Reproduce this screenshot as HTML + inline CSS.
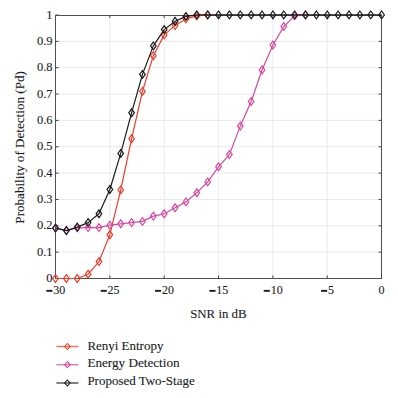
<!DOCTYPE html><html><head><meta charset="utf-8"><style>html,body{margin:0;padding:0;background:#fff;}svg{display:block;}text{font-family:"Liberation Serif",serif;fill:#1c1c26;stroke:#1c1c26;stroke-width:0.12px;}</style></head><body>
<svg width="398" height="398" viewBox="0 0 398 398">
<rect width="398" height="398" fill="#fff"/>
<path stroke="#ededed" stroke-width="1.2" fill="none" d="M109.85 15.0V278.5M164.20 15.0V278.5M218.55 15.0V278.5M272.90 15.0V278.5M327.25 15.0V278.5"/>
<path stroke="#e8e8e8" stroke-width="1" fill="none" d="M55.5 252.15H381.6M55.5 225.80H381.6M55.5 199.45H381.6M55.5 173.10H381.6M55.5 146.75H381.6M55.5 120.40H381.6M55.5 94.05H381.6M55.5 67.70H381.6M55.5 41.35H381.6"/>
<path stroke="#444" stroke-width="1" fill="none" d="M55.50 278.5v-3M55.50 15.0v3M109.85 278.5v-3M109.85 15.0v3M164.20 278.5v-3M164.20 15.0v3M218.55 278.5v-3M218.55 15.0v3M272.90 278.5v-3M272.90 15.0v3M327.25 278.5v-3M327.25 15.0v3M381.60 278.5v-3M381.60 15.0v3M55.5 278.50h3M381.6 278.50h-3M55.5 252.15h3M381.6 252.15h-3M55.5 225.80h3M381.6 225.80h-3M55.5 199.45h3M381.6 199.45h-3M55.5 173.10h3M381.6 173.10h-3M55.5 146.75h3M381.6 146.75h-3M55.5 120.40h3M381.6 120.40h-3M55.5 94.05h3M381.6 94.05h-3M55.5 67.70h3M381.6 67.70h-3M55.5 41.35h3M381.6 41.35h-3M55.5 15.00h3M381.6 15.00h-3"/>
<rect x="55.5" y="15.5" width="326" height="263" fill="none" stroke="#505050" stroke-width="1"/>
<polyline fill="none" stroke="#ea3d2b" stroke-width="1.2" stroke-linejoin="round" points="55.50,278.50 66.37,278.50 77.24,278.50 88.11,274.20 98.98,261.60 109.85,234.70 120.72,189.90 131.59,138.80 142.46,91.40 153.33,55.70 164.20,34.90 175.07,25.60 185.94,18.90 196.81,15.80 207.68,14.90"/>
<path fill="none" stroke="#ea3d2b" stroke-width="1.2" d="M55.50 274.60L58.30 278.50L55.50 282.40L52.70 278.50ZM66.37 274.60L69.17 278.50L66.37 282.40L63.57 278.50ZM77.24 274.60L80.04 278.50L77.24 282.40L74.44 278.50ZM88.11 270.30L90.91 274.20L88.11 278.10L85.31 274.20ZM98.98 257.70L101.78 261.60L98.98 265.50L96.18 261.60ZM109.85 230.80L112.65 234.70L109.85 238.60L107.05 234.70ZM120.72 186.00L123.52 189.90L120.72 193.80L117.92 189.90ZM131.59 134.90L134.39 138.80L131.59 142.70L128.79 138.80ZM142.46 87.50L145.26 91.40L142.46 95.30L139.66 91.40ZM153.33 51.80L156.13 55.70L153.33 59.60L150.53 55.70ZM164.20 31.00L167.00 34.90L164.20 38.80L161.40 34.90ZM175.07 21.70L177.87 25.60L175.07 29.50L172.27 25.60ZM185.94 15.00L188.74 18.90L185.94 22.80L183.14 18.90ZM196.81 11.90L199.61 15.80L196.81 19.70L194.01 15.80ZM207.68 11.00L210.48 14.90L207.68 18.80L204.88 14.90Z"/>

<polyline fill="none" stroke="#d8489f" stroke-width="1.2" stroke-linejoin="round" points="55.50,228.10 66.37,230.50 77.24,227.90 88.11,227.60 98.98,227.60 109.85,225.20 120.72,223.80 131.59,222.60 142.46,221.40 153.33,216.10 164.20,213.80 175.07,207.80 185.94,201.90 196.81,192.80 207.68,181.90 218.55,166.80 229.42,154.60 240.29,126.10 251.16,101.50 262.03,70.00 272.90,45.00 283.77,26.60 294.64,15.90 305.51,14.90"/>
<path fill="none" stroke="#d8489f" stroke-width="1.2" d="M55.50 224.20L58.30 228.10L55.50 232.00L52.70 228.10ZM66.37 226.60L69.17 230.50L66.37 234.40L63.57 230.50ZM77.24 224.00L80.04 227.90L77.24 231.80L74.44 227.90ZM88.11 223.70L90.91 227.60L88.11 231.50L85.31 227.60ZM98.98 223.70L101.78 227.60L98.98 231.50L96.18 227.60ZM109.85 221.30L112.65 225.20L109.85 229.10L107.05 225.20ZM120.72 219.90L123.52 223.80L120.72 227.70L117.92 223.80ZM131.59 218.70L134.39 222.60L131.59 226.50L128.79 222.60ZM142.46 217.50L145.26 221.40L142.46 225.30L139.66 221.40ZM153.33 212.20L156.13 216.10L153.33 220.00L150.53 216.10ZM164.20 209.90L167.00 213.80L164.20 217.70L161.40 213.80ZM175.07 203.90L177.87 207.80L175.07 211.70L172.27 207.80ZM185.94 198.00L188.74 201.90L185.94 205.80L183.14 201.90ZM196.81 188.90L199.61 192.80L196.81 196.70L194.01 192.80ZM207.68 178.00L210.48 181.90L207.68 185.80L204.88 181.90ZM218.55 162.90L221.35 166.80L218.55 170.70L215.75 166.80ZM229.42 150.70L232.22 154.60L229.42 158.50L226.62 154.60ZM240.29 122.20L243.09 126.10L240.29 130.00L237.49 126.10ZM251.16 97.60L253.96 101.50L251.16 105.40L248.36 101.50ZM262.03 66.10L264.83 70.00L262.03 73.90L259.23 70.00ZM272.90 41.10L275.70 45.00L272.90 48.90L270.10 45.00ZM283.77 22.70L286.57 26.60L283.77 30.50L280.97 26.60ZM294.64 12.00L297.44 15.90L294.64 19.80L291.84 15.90ZM305.51 11.00L308.31 14.90L305.51 18.80L302.71 14.90Z"/>

<polyline fill="none" stroke="#1a1a1a" stroke-width="1.2" stroke-linejoin="round" points="55.50,228.10 66.37,230.60 77.24,227.10 88.11,222.60 98.98,213.80 109.85,189.50 120.72,153.40 131.59,112.80 142.46,74.40 153.33,45.90 164.20,29.60 175.07,21.20 185.94,16.40 196.81,14.90 207.68,14.90 218.55,14.90 229.42,14.90 240.29,14.90 251.16,14.90 262.03,14.90 272.90,14.90 283.77,14.90 294.64,14.90 305.51,14.90 316.38,14.90 327.25,14.90 338.12,14.90 348.99,14.90 359.86,14.90 370.73,14.90 381.60,14.90"/>
<path fill="none" stroke="#1a1a1a" stroke-width="1.2" d="M55.50 224.20L58.30 228.10L55.50 232.00L52.70 228.10ZM66.37 226.70L69.17 230.60L66.37 234.50L63.57 230.60ZM77.24 223.20L80.04 227.10L77.24 231.00L74.44 227.10ZM88.11 218.70L90.91 222.60L88.11 226.50L85.31 222.60ZM98.98 209.90L101.78 213.80L98.98 217.70L96.18 213.80ZM109.85 185.60L112.65 189.50L109.85 193.40L107.05 189.50ZM120.72 149.50L123.52 153.40L120.72 157.30L117.92 153.40ZM131.59 108.90L134.39 112.80L131.59 116.70L128.79 112.80ZM142.46 70.50L145.26 74.40L142.46 78.30L139.66 74.40ZM153.33 42.00L156.13 45.90L153.33 49.80L150.53 45.90ZM164.20 25.70L167.00 29.60L164.20 33.50L161.40 29.60ZM175.07 17.30L177.87 21.20L175.07 25.10L172.27 21.20ZM185.94 12.50L188.74 16.40L185.94 20.30L183.14 16.40ZM196.81 11.00L199.61 14.90L196.81 18.80L194.01 14.90ZM207.68 11.00L210.48 14.90L207.68 18.80L204.88 14.90ZM218.55 11.00L221.35 14.90L218.55 18.80L215.75 14.90ZM229.42 11.00L232.22 14.90L229.42 18.80L226.62 14.90ZM240.29 11.00L243.09 14.90L240.29 18.80L237.49 14.90ZM251.16 11.00L253.96 14.90L251.16 18.80L248.36 14.90ZM262.03 11.00L264.83 14.90L262.03 18.80L259.23 14.90ZM272.90 11.00L275.70 14.90L272.90 18.80L270.10 14.90ZM283.77 11.00L286.57 14.90L283.77 18.80L280.97 14.90ZM294.64 11.00L297.44 14.90L294.64 18.80L291.84 14.90ZM305.51 11.00L308.31 14.90L305.51 18.80L302.71 14.90ZM316.38 11.00L319.18 14.90L316.38 18.80L313.58 14.90ZM327.25 11.00L330.05 14.90L327.25 18.80L324.45 14.90ZM338.12 11.00L340.92 14.90L338.12 18.80L335.32 14.90ZM348.99 11.00L351.79 14.90L348.99 18.80L346.19 14.90ZM359.86 11.00L362.66 14.90L359.86 18.80L357.06 14.90ZM370.73 11.00L373.53 14.90L370.73 18.80L367.93 14.90ZM381.60 11.00L384.40 14.90L381.60 18.80L378.80 14.90Z"/>

<text x="52.6" y="282.10" font-size="13.5" text-anchor="end" textLength="6.25" lengthAdjust="spacingAndGlyphs">0</text>
<text x="52.6" y="255.75" font-size="13.5" text-anchor="end" textLength="15.6" lengthAdjust="spacingAndGlyphs">0.1</text>
<text x="52.6" y="229.40" font-size="13.5" text-anchor="end" textLength="15.6" lengthAdjust="spacingAndGlyphs">0.2</text>
<text x="52.6" y="203.05" font-size="13.5" text-anchor="end" textLength="15.6" lengthAdjust="spacingAndGlyphs">0.3</text>
<text x="52.6" y="176.70" font-size="13.5" text-anchor="end" textLength="15.6" lengthAdjust="spacingAndGlyphs">0.4</text>
<text x="52.6" y="150.35" font-size="13.5" text-anchor="end" textLength="15.6" lengthAdjust="spacingAndGlyphs">0.5</text>
<text x="52.6" y="124.00" font-size="13.5" text-anchor="end" textLength="15.6" lengthAdjust="spacingAndGlyphs">0.6</text>
<text x="52.6" y="97.65" font-size="13.5" text-anchor="end" textLength="15.6" lengthAdjust="spacingAndGlyphs">0.7</text>
<text x="52.6" y="71.30" font-size="13.5" text-anchor="end" textLength="15.6" lengthAdjust="spacingAndGlyphs">0.8</text>
<text x="52.6" y="44.95" font-size="13.5" text-anchor="end" textLength="15.6" lengthAdjust="spacingAndGlyphs">0.9</text>
<text x="52.6" y="18.60" font-size="13.5" text-anchor="end" textLength="6.25" lengthAdjust="spacingAndGlyphs">1</text>
<rect x="46.35" y="289.9" width="6.1" height="1.9" fill="#1c1c26"/>
<text x="53.25" y="294" font-size="13" textLength="12.0" lengthAdjust="spacingAndGlyphs">30</text>
<rect x="100.70" y="289.9" width="6.1" height="1.9" fill="#1c1c26"/>
<text x="107.60" y="294" font-size="13" textLength="12.0" lengthAdjust="spacingAndGlyphs">25</text>
<rect x="155.05" y="289.9" width="6.1" height="1.9" fill="#1c1c26"/>
<text x="161.95" y="294" font-size="13" textLength="12.0" lengthAdjust="spacingAndGlyphs">20</text>
<rect x="209.40" y="289.9" width="6.1" height="1.9" fill="#1c1c26"/>
<text x="216.30" y="294" font-size="13" textLength="12.0" lengthAdjust="spacingAndGlyphs">15</text>
<rect x="263.75" y="289.9" width="6.1" height="1.9" fill="#1c1c26"/>
<text x="270.65" y="294" font-size="13" textLength="12.0" lengthAdjust="spacingAndGlyphs">10</text>
<rect x="321.10" y="289.9" width="6.1" height="1.9" fill="#1c1c26"/>
<text x="328.00" y="294" font-size="13" textLength="6.0" lengthAdjust="spacingAndGlyphs">5</text>
<text x="381.60" y="294" font-size="13" text-anchor="middle" textLength="6" lengthAdjust="spacingAndGlyphs">0</text>
<text x="218.4" y="317.7" font-size="12.5" text-anchor="middle" textLength="56.5" lengthAdjust="spacingAndGlyphs">SNR in dB</text>
<text transform="translate(23.6,147.4) rotate(-90)" font-size="12.5" text-anchor="middle" textLength="152.5" lengthAdjust="spacingAndGlyphs">Probability of Detection (Pd)</text>
<path stroke="#ea3d2b" stroke-width="1.5" stroke-opacity="0.72" fill="none" d="M56.4 346.5H78.4"/>
<path stroke="#ea3d2b" stroke-width="1.1" fill="none" d="M67.4 343.5L70.10000000000001 346.5L67.4 349.5L64.7 346.5Z"/>
<text x="87.4" y="349.8" font-size="12.5" textLength="76" lengthAdjust="spacingAndGlyphs">Renyi Entropy</text>
<path stroke="#d8489f" stroke-width="1.5" stroke-opacity="0.72" fill="none" d="M56.4 364.7H78.4"/>
<path stroke="#d8489f" stroke-width="1.1" fill="none" d="M67.4 361.7L70.10000000000001 364.7L67.4 367.7L64.7 364.7Z"/>
<text x="87.4" y="367.4" font-size="12.5" textLength="92.2" lengthAdjust="spacingAndGlyphs">Energy Detection</text>
<path stroke="#1a1a1a" stroke-width="1.5" stroke-opacity="0.72" fill="none" d="M56.4 383.0H78.4"/>
<path stroke="#1a1a1a" stroke-width="1.1" fill="none" d="M67.4 380.0L70.10000000000001 383.0L67.4 386.0L64.7 383.0Z"/>
<text x="87.4" y="385.0" font-size="12.5" textLength="107.3" lengthAdjust="spacingAndGlyphs">Proposed Two-Stage</text>
</svg></body></html>
